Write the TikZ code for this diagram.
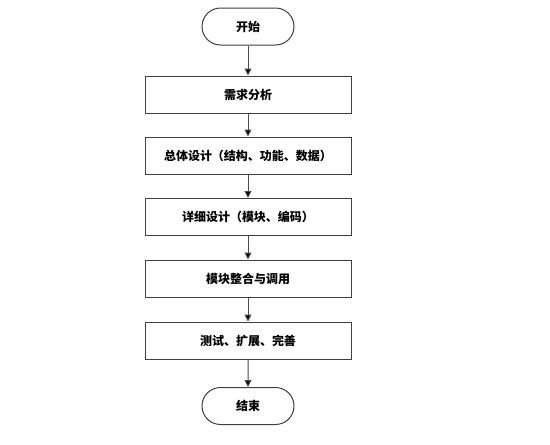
\documentclass[tikz,border=0pt]{standalone}
\usepackage{fontspec}
\setmainfont{Noto Sans CJK SC}
\usetikzlibrary{shapes.misc,arrows.meta}
\begin{document}
\begin{tikzpicture}[x=1pt,y=-1pt,
  every node/.style={font=\fontsize{12}{14}\selectfont\bfseries, text=black},
  procbox/.style={draw=black!75, line width=1pt, minimum width=206pt, minimum height=37pt, inner sep=0pt, fill=white},
  termbox/.style={draw=black!75, line width=1pt, rounded rectangle, minimum width=92pt, minimum height=37pt, inner sep=0pt, fill=white},
  flow/.style={draw=black!70, line width=1pt, -{Triangle[length=7pt,width=7pt,fill=black]}}]
\useasboundingbox (0,0) rectangle (550,445);
\node[termbox] (s) at (248,26.5) {开始};
\node[procbox] (a) at (248,94.5) {需求分析};
\node[procbox] (b) at (248,155.5) {总体设计（结构、功能、数据）};
\node[procbox] (c) at (248,217) {详细设计（模块、编码）};
\node[procbox] (d) at (248,278.5) {模块整合与调用};
\node[procbox] (e) at (248,340.5) {测试、扩展、完善};
\node[termbox] (t) at (248,406) {结束};
\draw[flow] (s) -- (a);
\draw[flow] (a) -- (b);
\draw[flow] (b) -- (c);
\draw[flow] (c) -- (d);
\draw[flow] (d) -- (e);
\draw[flow] (e) -- (t);
\end{tikzpicture}
\end{document}
